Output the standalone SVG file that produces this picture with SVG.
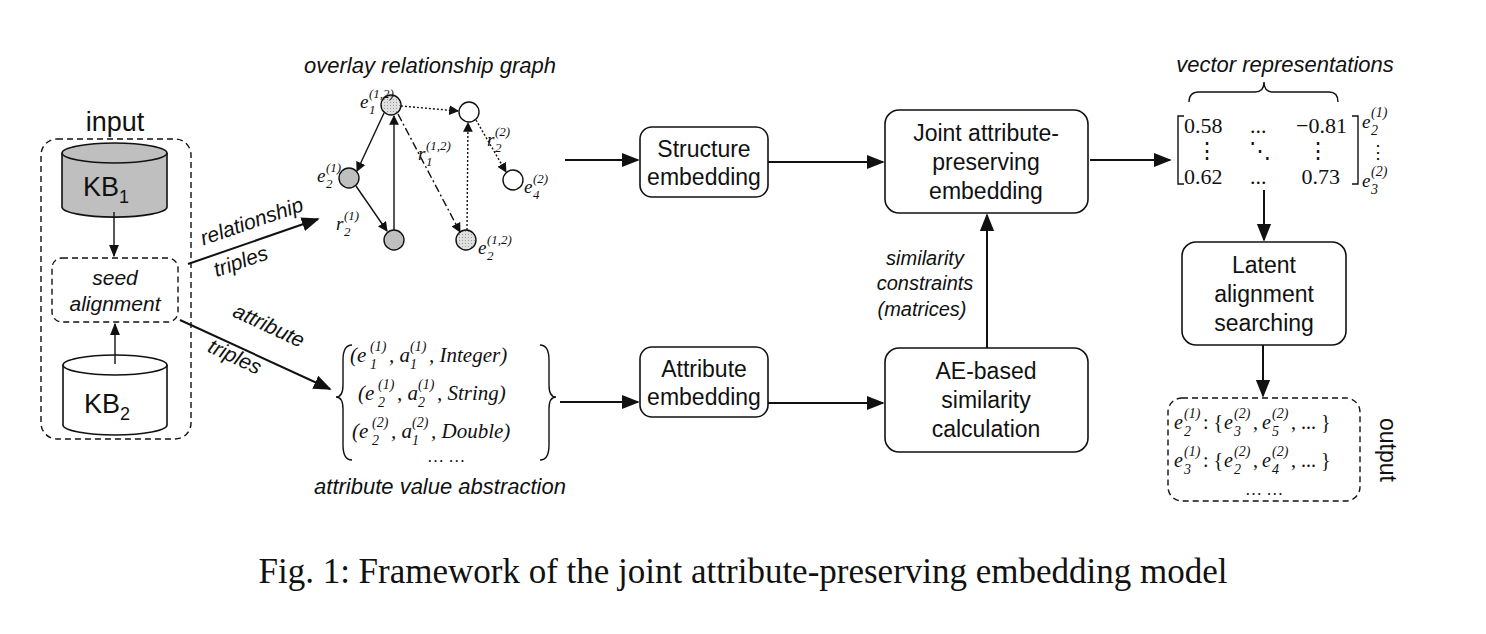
<svg xmlns="http://www.w3.org/2000/svg" width="1486" height="634" viewBox="0 0 1486 634">
<style>
.s{font-family:"Liberation Sans",Arial,sans-serif;fill:#111}
.i{font-family:"Liberation Sans",Arial,sans-serif;font-style:italic;fill:#111}
.m{font-family:"Liberation Serif","DejaVu Serif",serif;font-style:italic;fill:#111}
.n{font-family:"Liberation Serif","DejaVu Serif",serif;fill:#111}
.box{fill:#fff;stroke:#111;stroke-width:1.6}
.dash{fill:none;stroke:#111;stroke-width:1.4;stroke-dasharray:6 4}
.ln{stroke:#111;stroke-width:2;fill:none}
.th{stroke:#111;stroke-width:1.4;fill:none}
</style>
<defs>
<marker id="a" viewBox="0 0 10 10" refX="9" refY="5" markerWidth="7" markerHeight="7" orient="auto"><path d="M0,0L10,5L0,10z" fill="#111"/></marker>
<marker id="b" viewBox="0 0 10 10" refX="9" refY="5" markerWidth="9" markerHeight="9" orient="auto"><path d="M0,1L10,5L0,9z" fill="#111"/></marker>
<pattern id="h" width="3" height="3" patternUnits="userSpaceOnUse"><rect width="3" height="3" fill="#e0e0e0"/><rect width="1" height="1" fill="#999"/></pattern>
</defs>
<rect width="1486" height="634" fill="#fff"/>

<g id="input">
<text class="s" x="115" y="131" font-size="27" text-anchor="middle">input</text>
<rect class="dash" x="41" y="139" width="150" height="300" rx="16"/>
</g>
<g id="kb1">
<path d="M62,153V207A52,10 0 0 0 167,207V153" fill="#bfbfbf" stroke="#111" stroke-width="1.6"/>
<ellipse cx="114.5" cy="153" rx="52.5" ry="10" fill="#bfbfbf" stroke="#111" stroke-width="1.6"/>
<text class="s" x="106" y="196" font-size="27" text-anchor="middle">KB<tspan font-size="18" dy="7">1</tspan></text>
</g>
<g id="seed">
<rect class="dash" x="52" y="258" width="126" height="64" rx="10" stroke-dasharray="4 3"/>
<text class="i" x="115" y="285" font-size="21" text-anchor="middle">seed</text>
<text class="i" x="115" y="311" font-size="21" text-anchor="middle">alignment</text>
</g>
<g id="kb2">
<path d="M63,365V425A52,10 0 0 0 167,425V365" fill="#fff" stroke="#111" stroke-width="1.6"/>
<ellipse cx="115" cy="365" rx="52" ry="10" fill="#fff" stroke="#111" stroke-width="1.6"/>
<text class="s" x="107" y="413" font-size="27" text-anchor="middle">KB<tspan font-size="18" dy="7">2</tspan></text>
</g>

<g id="graph">
<text class="i" x="430" y="73" font-size="22" text-anchor="middle">overlay relationship graph</text>
<circle cx="391" cy="105" r="10" fill="url(#h)" stroke="#111" stroke-width="1.4"/>
<circle cx="469" cy="112" r="10" fill="#fff" stroke="#111" stroke-width="1.4"/>
<circle cx="349" cy="178" r="10" fill="#bfbfbf" stroke="#111" stroke-width="1.4"/>
<circle cx="394" cy="240" r="10" fill="#bfbfbf" stroke="#111" stroke-width="1.4"/>
<circle cx="513" cy="180" r="10" fill="#fff" stroke="#111" stroke-width="1.4"/>
<circle cx="466" cy="240" r="10" fill="url(#h)" stroke="#111" stroke-width="1.4"/>
<line class="th" x1="384" y1="113" x2="357" y2="171" marker-end="url(#a)"/>
<line class="th" x1="356" y1="186" x2="387" y2="231" marker-end="url(#a)"/>
<line class="th" x1="394" y1="230" x2="394" y2="116" marker-end="url(#a)"/>
<line class="th" x1="401" y1="106" x2="458" y2="111" stroke-dasharray="2 2" marker-end="url(#a)"/>
<line class="th" x1="398" y1="114" x2="460" y2="232" stroke-dasharray="8 3 2 3" marker-end="url(#a)"/>
<line class="th" x1="467" y1="230" x2="468" y2="123" stroke-dasharray="2 2" marker-end="url(#a)"/>
<line class="th" x1="476" y1="120" x2="506" y2="172" stroke-dasharray="2 2" marker-end="url(#a)"/>
<g font-size="19">
<text class="m" x="360" y="108">e</text><text class="m" x="369" y="98" font-size="13">(1,2)</text><text class="m" x="369" y="114" font-size="13">1</text>
<text class="m" x="317" y="182">e</text><text class="m" x="326" y="172" font-size="13">(1)</text><text class="m" x="326" y="188" font-size="13">2</text>
<text class="m" x="336" y="230">r</text><text class="m" x="344" y="220" font-size="13">(1)</text><text class="m" x="344" y="236" font-size="13">2</text>
<text class="m" x="418" y="160">r</text><text class="m" x="426" y="150" font-size="13">(1,2)</text><text class="m" x="426" y="166" font-size="13">1</text>
<text class="m" x="487" y="146">r</text><text class="m" x="495" y="136" font-size="13">(2)</text><text class="m" x="495" y="152" font-size="13">2</text>
<text class="m" x="524" y="193">e</text><text class="m" x="533" y="183" font-size="13">(2)</text><text class="m" x="533" y="199" font-size="13">4</text>
<text class="m" x="478" y="254">e</text><text class="m" x="487" y="244" font-size="13">(1,2)</text><text class="m" x="487" y="260" font-size="13">2</text>
</g>
</g>

<g id="attrset">
<path class="th" d="M352,345Q343,345 343,360V385Q343,397 336,397Q343,397 343,409V445Q343,460 352,460" stroke-width="1.6"/>
<path class="th" d="M540,345Q549,345 549,360V385Q549,397 556,397Q549,397 549,409V445Q549,460 540,460" stroke-width="1.6"/>
<g font-size="21">
<text class="m" x="350" y="362">(e</text><text class="m" x="370" y="351" font-size="14">(1)</text><text class="m" x="370" y="369" font-size="14">1</text><text class="m" x="389" y="362">, a</text><text class="m" x="410" y="351" font-size="14">(1)</text><text class="m" x="410" y="369" font-size="14">1</text><text class="m" x="429" y="362">, Integer)</text>
<text class="m" x="358" y="400">(e</text><text class="m" x="378" y="389" font-size="14">(1)</text><text class="m" x="378" y="407" font-size="14">2</text><text class="m" x="397" y="400">, a</text><text class="m" x="418" y="389" font-size="14">(1)</text><text class="m" x="418" y="407" font-size="14">2</text><text class="m" x="437" y="400">, String)</text>
<text class="m" x="352" y="438">(e</text><text class="m" x="372" y="427" font-size="14">(2)</text><text class="m" x="372" y="445" font-size="14">2</text><text class="m" x="391" y="438">, a</text><text class="m" x="412" y="427" font-size="14">(2)</text><text class="m" x="412" y="445" font-size="14">1</text><text class="m" x="431" y="438">, Double)</text>
<text class="n" x="446" y="462" text-anchor="middle" font-size="17">… …</text>
</g>
<text class="i" x="440" y="494" font-size="22" text-anchor="middle">attribute value abstraction</text>
</g>

<g id="structure"><rect class="box" x="640" y="127" width="128" height="70" rx="12"/>
<text class="s" x="704" y="157" font-size="23" text-anchor="middle">Structure</text><text class="s" x="704" y="185" font-size="23" text-anchor="middle">embedding</text></g>
<g id="attribute"><rect class="box" x="640" y="347" width="128" height="70" rx="12"/>
<text class="s" x="704" y="377" font-size="23" text-anchor="middle">Attribute</text><text class="s" x="704" y="405" font-size="23" text-anchor="middle">embedding</text></g>
<g id="joint"><rect class="box" x="885" y="110" width="203" height="103" rx="14"/>
<text class="s" x="986" y="141" font-size="23" text-anchor="middle">Joint attribute-</text><text class="s" x="986" y="170" font-size="23" text-anchor="middle">preserving</text><text class="s" x="986" y="199" font-size="23" text-anchor="middle">embedding</text></g>
<g id="ae"><rect class="box" x="885" y="348" width="203" height="104" rx="14"/>
<text class="s" x="986" y="379" font-size="23" text-anchor="middle">AE-based</text><text class="s" x="986" y="408" font-size="23" text-anchor="middle">similarity</text><text class="s" x="986" y="437" font-size="23" text-anchor="middle">calculation</text></g>
<g id="latent"><rect class="box" x="1182" y="242" width="164" height="103" rx="14"/>
<text class="s" x="1264" y="273" font-size="23" text-anchor="middle">Latent</text><text class="s" x="1264" y="302" font-size="23" text-anchor="middle">alignment</text><text class="s" x="1264" y="331" font-size="23" text-anchor="middle">searching</text></g>

<g id="vectors">
<text class="i" x="1285" y="72" font-size="22" text-anchor="middle">vector representations</text>
<path class="th" d="M1189,102Q1189,92 1199,92H1255Q1264,92 1264,82Q1264,92 1273,92H1329Q1338,92 1338,102"/>
<path class="th" d="M1184,116H1178V184H1184M1352,116H1358V184H1352" stroke-width="1.6"/>
<g class="n" font-size="22">
<text x="1184" y="133">0.58</text><text x="1250" y="133">...</text><text x="1347" y="133" text-anchor="end">−0.81</text>
<text x="1207" y="158" text-anchor="middle">⋮</text><text x="1260" y="158" text-anchor="middle">⋱</text><text x="1318" y="158" text-anchor="middle">⋮</text>
<text x="1184" y="184">0.62</text><text x="1250" y="184">...</text><text x="1340" y="184" text-anchor="end">0.73</text>
</g>
<text class="m" x="1362" y="128" font-size="19">e</text><text class="m" x="1371" y="117" font-size="14">(1)</text><text class="m" x="1371" y="135" font-size="14">2</text>
<text class="n" x="1378" y="158" font-size="18" text-anchor="middle">⋮</text>
<text class="m" x="1362" y="187" font-size="19">e</text><text class="m" x="1371" y="176" font-size="14">(2)</text><text class="m" x="1371" y="194" font-size="14">3</text>
</g>

<g id="output">
<rect class="dash" x="1168" y="398" width="192" height="103" rx="14"/>
<text class="s" x="1380" y="450" font-size="23" text-anchor="middle" transform="rotate(90 1380 450)">output</text>
<g font-size="20">
<text class="m" x="1174" y="429">e</text><text class="m" x="1184" y="418" font-size="14">(1)</text><text class="m" x="1184" y="436" font-size="14">2</text><text class="n" x="1203" y="429">: {</text><text class="m" x="1224" y="429">e</text><text class="m" x="1234" y="418" font-size="14">(2)</text><text class="m" x="1234" y="436" font-size="14">3</text><text class="n" x="1253" y="429">, </text><text class="m" x="1262" y="429">e</text><text class="m" x="1272" y="418" font-size="14">(2)</text><text class="m" x="1272" y="436" font-size="14">5</text><text class="n" x="1291" y="429">, ... }</text>
<text class="m" x="1174" y="467">e</text><text class="m" x="1184" y="456" font-size="14">(1)</text><text class="m" x="1184" y="474" font-size="14">3</text><text class="n" x="1203" y="467">: {</text><text class="m" x="1224" y="467">e</text><text class="m" x="1234" y="456" font-size="14">(2)</text><text class="m" x="1234" y="474" font-size="14">2</text><text class="n" x="1253" y="467">, </text><text class="m" x="1262" y="467">e</text><text class="m" x="1272" y="456" font-size="14">(2)</text><text class="m" x="1272" y="474" font-size="14">4</text><text class="n" x="1291" y="467">, ... }</text>
<text class="n" x="1264" y="495" text-anchor="middle" font-size="17">… …</text>
</g>
</g>

<g id="connectors">
<line class="th" x1="114" y1="212" x2="114" y2="256" marker-end="url(#b)"/>
<line class="th" x1="115" y1="364" x2="115" y2="324" marker-end="url(#b)"/>
<line class="ln" x1="188" y1="264" x2="318" y2="219" marker-end="url(#b)"/>
<line class="ln" x1="180" y1="320" x2="330" y2="389" marker-end="url(#b)"/>
<line class="ln" x1="565" y1="160" x2="638" y2="160" marker-end="url(#b)"/>
<line class="ln" x1="768" y1="162" x2="883" y2="162" marker-end="url(#b)"/>
<line class="ln" x1="1090" y1="160" x2="1170" y2="160" marker-end="url(#b)"/>
<line class="ln" x1="1264" y1="190" x2="1264" y2="240" marker-end="url(#b)"/>
<line class="ln" x1="1263" y1="345" x2="1263" y2="396" marker-end="url(#b)"/>
<line class="ln" x1="560" y1="402" x2="638" y2="402" marker-end="url(#b)"/>
<line class="ln" x1="768" y1="403" x2="883" y2="403" marker-end="url(#b)"/>
<line class="ln" x1="987" y1="348" x2="987" y2="215" marker-end="url(#b)"/>
<text class="i" x="254" y="228" font-size="21" text-anchor="middle" transform="rotate(-19 254 228)">relationship</text>
<text class="i" x="243" y="268" font-size="21" text-anchor="middle" transform="rotate(-19 243 268)">triples</text>
<text class="i" x="266" y="332" font-size="21" text-anchor="middle" transform="rotate(25 266 332)">attribute</text>
<text class="i" x="232" y="363" font-size="21" text-anchor="middle" transform="rotate(25 232 363)">triples</text>
<text class="i" x="925" y="265" font-size="20" text-anchor="middle">similarity</text>
<text class="i" x="925" y="290" font-size="20" text-anchor="middle">constraints</text>
<text class="i" x="922" y="316" font-size="20" text-anchor="middle">(matrices)</text>
</g>

<text class="n" x="743" y="583" font-size="35" text-anchor="middle">Fig. 1: Framework of the joint attribute-preserving embedding model</text>
</svg>
